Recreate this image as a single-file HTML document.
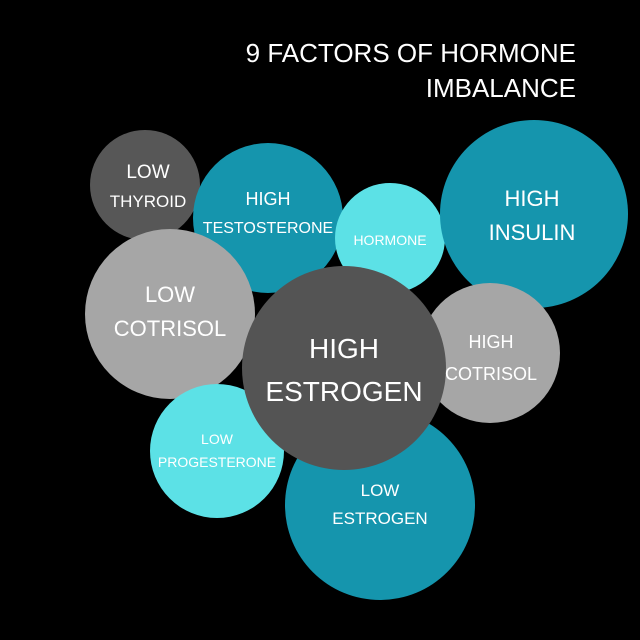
<!DOCTYPE html>
<html><head><meta charset="utf-8"><style>
html,body{margin:0;padding:0;background:#000;}
svg{display:block}
text{font-family:"Liberation Sans",sans-serif;fill:#fff;text-anchor:middle}
</style></head><body>
<svg width="640" height="640" viewBox="0 0 640 640">
<rect width="640" height="640" fill="#000"/>
<text x="576" y="62" font-size="26" style="text-anchor:end">9 FACTORS OF HORMONE</text>
<text x="576" y="97" font-size="26" style="text-anchor:end">IMBALANCE</text>

<circle cx="145" cy="185" r="55" fill="#575757"/>
<circle cx="268" cy="218" r="75" fill="#1595ad"/>
<circle cx="390" cy="238" r="55" fill="#5ce1e6"/>
<circle cx="534" cy="214" r="94" fill="#1595ad"/>
<circle cx="490" cy="353" r="70" fill="#a6a6a6"/>
<circle cx="170" cy="314" r="85" fill="#a6a6a6"/>
<circle cx="217" cy="451" r="67" fill="#5ce1e6"/>
<circle cx="380" cy="505" r="95" fill="#1595ad"/>
<circle cx="344" cy="368" r="102" fill="#545454"/>

<text x="148" y="178" font-size="19">LOW</text>
<text x="148" y="207" font-size="17">THYROID</text>
<text x="268" y="205" font-size="18">HIGH</text>
<text x="268" y="233" font-size="16">TESTOSTERONE</text>
<text x="390" y="245" font-size="14">HORMONE</text>
<text x="532" y="206" font-size="22">HIGH</text>
<text x="532" y="240" font-size="22">INSULIN</text>
<text x="170" y="302" font-size="22">LOW</text>
<text x="170" y="336" font-size="22">COTRISOL</text>
<text x="491" y="348" font-size="18">HIGH</text>
<text x="491" y="380" font-size="18">COTRISOL</text>
<text x="217" y="444" font-size="14">LOW</text>
<text x="217" y="467" font-size="14">PROGESTERONE</text>
<text x="380" y="496" font-size="17">LOW</text>
<text x="380" y="524" font-size="17">ESTROGEN</text>
<text x="344" y="358" font-size="28">HIGH</text>
<text x="344" y="401" font-size="28">ESTROGEN</text>
</svg>
</body></html>
